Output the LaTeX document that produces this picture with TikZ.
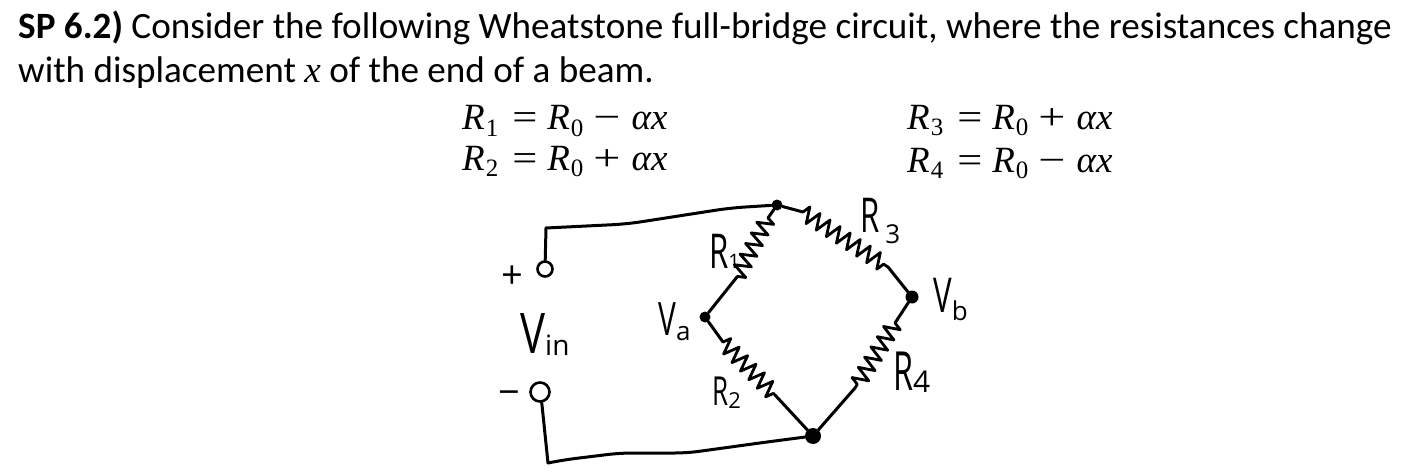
\documentclass[tikz,border=0pt]{standalone}
\usepackage{fontspec}
\setmainfont{Carlito}
\newfontfamily\handfont{Open Sans}
\newfontfamily\eqfont{Liberation Serif}
\usetikzlibrary{decorations.pathmorphing}
\newcommand{\eqvar}[1]{{\itshape R}\hspace{1pt}\raisebox{-6pt}{\fontsize{25}{25}\selectfont #1}}
\newcommand{\eqline}[2]{\eqvar{#1}\hspace{14pt}\scalebox{1.2}[1]{=}\hspace{10pt}\eqvar{0}\hspace{10pt}\scalebox{1.3}[1]{#2}\hspace{11pt}{\itshape αx}}
\newcommand{\hnd}[2]{\scalebox{#1}[1]{#2}}
\newcommand{\hsub}[3]{\raisebox{#1}{\fontsize{#2}{#2}\selectfont #3}}
\tikzset{
  wire/.style={line width=3pt,line cap=round,line join=round,black},
  res/.style={wire,line width=2.8pt,decorate,decoration={zigzag,segment length=#1,amplitude=8pt}},
  res/.default=12pt,
  dot/.style={circle,fill=black,inner sep=0pt,minimum size=#1},
  term/.style={circle,draw=black,line width=2.6pt,fill=white,inner sep=0pt,minimum size=#1},
  txt/.style={anchor=base west,inner sep=0pt,font=\fontsize{37.15}{37.15}\selectfont},
  eq/.style={anchor=base west,inner sep=0pt,font=\eqfont\fontsize{37}{37}\selectfont},
  hand/.style={anchor=base west,inner sep=0pt,font=\handfont\fontsize{#1}{#1}\selectfont},
  sign/.style={inner sep=0pt,font=\handfont\fontsize{#1}{#1}\selectfont}
}
\begin{document}
\begin{tikzpicture}[x=1pt,y=-1pt]
\useasboundingbox (0,0) rectangle (1402,476);
\node[txt] (l1) at (18,39) {\textbf{SP 6.2)} Consider the following Wheatstone full-bridge circuit, where the resistances change};
\node[txt] (l2) at (18,83) {with displacement {\eqfont\itshape x} of the end of a beam.};
\node[eq] (e1) at (462,130) {\eqline{1}{−}};
\node[eq] (e2) at (462,170) {\eqline{2}{+}};
\node[eq] (e3) at (907,129) {\eqline{3}{+}};
\node[eq] (e4) at (907,172) {\eqline{4}{−}};
% junctions
\node[dot=11pt] (top) at (777,205) {};
\node[dot=11pt] (left) at (705,317) {};
\node[dot=13pt] (right) at (912,297) {};
\node[dot=16pt] (bot) at (813,436) {};
\node[term=15pt] (tp) at (545,269) {};
\node[term=19pt] (tm) at (540,392) {};
% resistor ends
\coordinate (r1a) at (768,218); \coordinate (r1b) at (737,277);
\coordinate (r2a) at (723,342); \coordinate (r2b) at (775,395);
\coordinate (r3a) at (803,212); \coordinate (r3b) at (888,267);
\coordinate (r4a) at (895,323); \coordinate (r4b) at (855,388);
% input wires
\coordinate (w1) at (546,228); \coordinate (w2) at (627,224); \coordinate (w3) at (730,208);
\coordinate (b1) at (542,405); \coordinate (b2) at (548,463); \coordinate (b3) at (563,460);
\coordinate (b4) at (620,453); \coordinate (b5) at (687,453); \coordinate (b6) at (767,442);
\draw[wire] (tp) -- (w1);
\draw[wire,rounded corners=14pt] (w1) -- (w2) -- (w3) -- (top);
\draw[wire] (tm) -- (b1) -- (b2);
\draw[wire,rounded corners=12pt] (b2) -- (b3) -- (b4) -- (b5) -- (b6) -- (bot);
% bridge
\draw[wire] (top) -- (r1a); \draw[res] (r1a) -- (r1b); \draw[wire] (r1b) -- (left);
\draw[wire] (left) -- (r2a); \draw[res] (r2a) -- (r2b); \draw[wire] (r2b) -- (bot);
\draw[wire] (top) -- (r3a); \draw[res] (r3a) -- (r3b); \draw[wire] (r3b) -- (right);
\draw[wire] (right) -- (r4a); \draw[res] (r4a) -- (r4b); \draw[wire] (r4b) -- (bot);
% handwritten labels
\node[sign=38] (plus) at (512,277) {+};
\node[sign=38] (minus) at (509,398) {−};
\node[hand=56] (vin) at (520,353) {\hnd{.75}{V}\hsub{-2pt}{28}{in}};
\node[hand=46] (va) at (658,335) {\hnd{.65}{V}\hsub{-5pt}{26}{a}};
\node[hand=48] (rone) at (709,268) {\hnd{.65}{R}\hsub{0pt}{20}{1}};
\node[hand=40] (rtwo) at (712,405) {\hnd{.65}{R}\hsub{-3pt}{22}{2}};
\node[hand=48] (rthree) at (860,232) {\hnd{.65}{R}\hspace{6pt}\hsub{-11pt}{26}{3}};
\node[hand=54] (rfour) at (893,390) {\hnd{.6}{R}\hsub{-2pt}{30}{4}};
\node[hand=48] (vb) at (933,312) {\hnd{.65}{V}\hsub{-8pt}{26}{b}};
\end{tikzpicture}
\end{document}
